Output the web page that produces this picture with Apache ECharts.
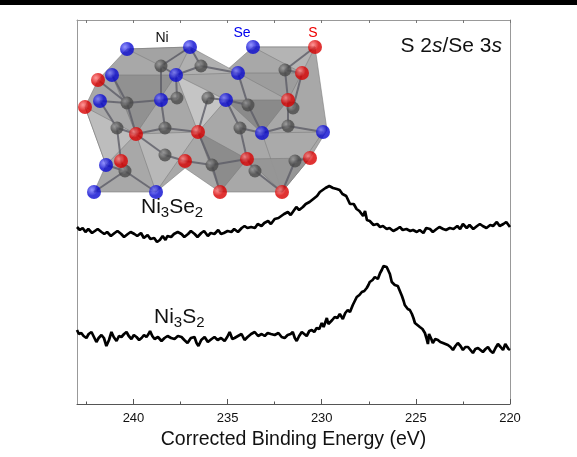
<!DOCTYPE html>
<html><head><meta charset="utf-8">
<script src="https://cdn.jsdelivr.net/npm/echarts@6/dist/echarts.min.js"></script>
<style>html,body{margin:0;padding:0;background:#fff}#c{width:577px;height:457px}</style>
</head><body><div id="c"></div>
<script>
// ---- spectra (binding energy in eV, intensity in arbitrary units) ----
const seEnergy = [243.0,242.85,242.7,242.55,242.4,242.2,242.05,241.9,241.7,241.55,241.4,241.2,241.0,240.85,240.65,240.5,240.3,240.15,239.95,239.8,239.6,239.45,239.25,239.1,238.9,238.75,238.6,238.45,238.3,238.2,238.0,237.85,237.65,237.45,237.3,237.1,236.95,236.75,236.6,236.4,236.25,236.05,235.9,235.7,235.5,235.35,235.2,235.0,234.8,234.65,234.45,234.25,234.1,233.95,233.75,233.55,233.4,233.2,233.05,232.85,232.7,232.5,232.3,232.15,232.0,231.8,231.65,231.5,231.35,231.2,231.0,230.85,230.65,230.45,230.25,230.1,229.95,229.8,229.6,229.4,229.2,229.05,228.9,228.7,228.5,228.3,228.15,228.0,227.8,227.7,227.6,227.45,227.25,227.05,226.9,226.75,226.55,226.4,226.2,226.0,225.85,225.7,225.5,225.3,225.15,224.95,224.8,224.6,224.45,224.25,224.1,223.9,223.75,223.55,223.4,223.2,223.0,222.8,222.65,222.5,222.3,222.15,221.95,221.75,221.6,221.45,221.25,221.05,220.9,220.7,220.55,220.35,220.2,220.0];
const seIntensity = [177,174,176,172,175,171,173,175,172,170,172,168,171,173,170,167,170,172,170,168,171,166,169,165,166,162,164,168,164,168,167,170,172,170,167,170,173,170,167,171,173,168,171,170,174,170,171,173,172,175,172,176,178,176,177,176,180,178,181,183,180,185,186,188,190,192,189,193,197,194,197,200,202,205,208,212,214,216,218,216,215,214,210,208,200,200,195,193,188,193,184,183,179,180,177,178,175,176,173,175,177,174,175,173,174,172,174,171,176,175,172,175,177,175,174,176,175,178,175,180,176,179,175,178,180,178,176,179,178,182,178,180,182,177];

const sEnergy = [243.0,242.9,242.77,242.65,242.5,242.38,242.23,242.1,241.97,241.85,241.7,241.57,241.44,241.3,241.17,241.05,240.9,240.77,240.64,240.5,240.37,240.25,240.11,239.98,239.84,239.7,239.57,239.44,239.31,239.2,239.12,239.0,238.88,238.7,238.51,238.35,238.19,238.0,237.82,237.64,237.45,237.3,237.13,236.95,236.76,236.65,236.55,236.4,236.22,236.05,235.85,235.7,235.53,235.35,235.16,235.02,234.89,234.75,234.63,234.45,234.26,234.1,233.94,233.75,233.56,233.38,233.19,233.03,232.87,232.7,232.5,232.3,232.13,231.97,231.81,231.65,231.54,231.43,231.33,231.2,231.06,230.93,230.8,230.66,230.53,230.4,230.27,230.13,230.0,229.9,229.84,229.73,229.65,229.57,229.44,229.31,229.17,229.04,228.95,228.88,228.75,228.62,228.5,228.35,228.25,228.14,228.0,227.87,227.74,227.61,227.52,227.45,227.3,227.18,227.1,227.02,226.9,226.81,226.72,226.65,226.55,226.49,226.38,226.28,226.2,226.12,226.04,225.96,225.85,225.74,225.65,225.59,225.5,225.43,225.32,225.21,225.13,225.05,224.92,224.79,224.65,224.52,224.44,224.36,224.3,224.26,224.18,224.1,223.97,223.83,223.7,223.56,223.43,223.3,223.16,223.03,222.9,222.77,222.63,222.5,222.37,222.23,222.1,221.97,221.84,221.7,221.57,221.44,221.3,221.17,221.03,220.9,220.77,220.64,220.5,220.37,220.25,220.16,220.08,220.0];
const sIntensity = [74,70,71,68,66,70,72,67,62,66,69,66,58,64,72,67,63,68,67,70,72,68,65,69,67,64,66,69,67,70,73,68,65,67,63,66,68,66,65,68,67,64,61,66,67,61,58,64,67,62,65,67,64,66,63,67,72,65,66,68,70,64,67,70,72,68,70,68,71,70,69,71,67,66,69,70,72,66,63,68,72,70,68,73,74,72,76,75,81,77,76,86,80,81,84,87,86,90,88,85,91,94,92,99,101,107,109,112,113,116,119,122,124,127,126,125,131,134,138,139,137,138,130,122,124,119,121,118,113,108,103,99,98,95,94,90,86,81,79,77,75,71,66,60,70,72,65,61,65,64,62,61,60,59,57,54,58,61,58,54,57,57,54,51,55,56,54,52,55,57,53,51,56,60,57,54,60,62,55,54];

// ---- axis ticks ----
const majorTicks = [240,235,230,225,220];
const minorTicks = [242.5,237.5,232.5,227.5,222.5];
const topTicks = [242.5,240,237.5,235,232.5,230,227.5,225,222.5,220];

// ---- inset crystal structure (inset units) ----
const seAtoms = [[52,31],[115,29],[178,29],[37,57],[101,57],[163,55],[25,83],[86,82],[151,82],[187,115],[248,114],[31,147],[19,174],[81,174]];
const sAtoms = [[240,29],[23,62],[227,55],[10,89],[213,82],[61,116],[123,114],[46,143],[110,143],[172,141],[235,140],[145,174],[207,174]];
const niAtoms = [[86,48],[126,48],[210,52],[52,85],[102,80],[133,80],[173,87],[218,90],[42,110],[90,110],[165,110],[213,108],[50,153],[90,137],[137,147],[180,153],[220,143]];
const hull = [[52,31],[115,29],[152,52],[178,29],[240,29],[252,112],[235,140],[207,174],[145,174],[110,150],[81,174],[19,174],[31,147],[10,89],[23,62]];
const facets = [
  [[37,57],[101,57],[61,116]],
  [[115,29],[101,57],[163,55]],
  [[101,57],[151,82],[123,114]],
  [[151,82],[213,82],[187,115]],
  [[163,55],[227,55],[213,82]],
  [[61,116],[123,114],[81,174]],
  [[123,114],[172,141],[145,174]],
  [[187,115],[248,114],[207,174]],
  [[10,89],[61,116],[31,147]],
  [[178,29],[240,29],[227,55]],
  [[52,31],[115,29],[86,48]],
  [[172,141],[235,140],[207,174]]
];
const facetShades = ['#8f8f8f','#b0b0b0','#c6c6c6','#888888','#9c9c9c','#b8b8b8','#8a8a8a','#aaaaaa','#bebebe','#b4b4b4','#a2a2a2','#959595'];

const FONT = 'Liberation Sans, Arial, sans-serif';
const chart = echarts.init(document.getElementById('c'), null, {renderer:'canvas'});

function ball(c1, c2){
  return {type:'radial', x:0.35, y:0.35, r:0.75, colorStops:[{offset:0,color:c1},{offset:0.55,color:c2},{offset:1,color:c2}]};
}

const polys = [hull].concat(facets);
const polyFill = ['#a3a3a3'].concat(facetShades);
const anions = seAtoms.concat(sAtoms);
// bonds: each Ni linked to its nearby anions
const bonds = [];
niAtoms.forEach(n=>anions.forEach(a=>{
  const d = Math.hypot(n[0]-a[0], n[1]-a[1]);
  if (d < 38) bonds.push([n, a]);
}));

chart.setOption({
  animation:false,
  backgroundColor:'#fff',
  grid:[
    {left:77, right:67, top:20, bottom:53},
    {left:75, top:18, width:260, height:190}
  ],
  xAxis:[
    {gridIndex:0, type:'value', min:220, max:243, inverse:true, position:'bottom',
     axisLine:{show:true, onZero:false, lineStyle:{color:'#555', width:1}},
     axisTick:{show:true, inside:true, length:5, customValues:majorTicks, lineStyle:{color:'#555'}},
     axisLabel:{show:true, customValues:majorTicks, margin:8, color:'#111', fontSize:13, fontFamily:FONT},
     splitLine:{show:false},
     name:'Corrected Binding Energy (eV)', nameLocation:'middle', nameGap:22,
     nameTextStyle:{fontSize:19.5, color:'#111', fontFamily:FONT}},
    {gridIndex:0, type:'value', min:220, max:243, inverse:true, position:'bottom',
     axisLine:{show:false, onZero:false},
     axisTick:{show:true, inside:true, length:2.5, customValues:minorTicks, lineStyle:{color:'#555'}},
     axisLabel:{show:false}, splitLine:{show:false}},
    {gridIndex:0, type:'value', min:220, max:243, inverse:true, position:'top',
     axisLine:{show:true, onZero:false, lineStyle:{color:'#999', width:1}},
     axisTick:{show:true, inside:true, length:3, customValues:topTicks, lineStyle:{color:'#777'}},
     axisLabel:{show:false}, splitLine:{show:false}},
    {gridIndex:1, type:'value', min:0, max:260, show:false}
  ],
  yAxis:[
    {gridIndex:0, type:'value', min:0, max:384, position:'left',
     axisLine:{show:true, onZero:false, lineStyle:{color:'#999'}},
     axisTick:{show:false}, axisLabel:{show:false}, splitLine:{show:false}},
    {gridIndex:0, type:'value', min:0, max:384, position:'right',
     axisLine:{show:true, onZero:false, lineStyle:{color:'#999'}},
     axisTick:{show:false}, axisLabel:{show:false}, splitLine:{show:false}},
    {gridIndex:1, type:'value', min:0, max:190, inverse:true, show:false}
  ],
  series:[
    {type:'line', name:'Ni3Se2', xAxisIndex:0, yAxisIndex:0, showSymbol:false, symbol:'none',
     data: seEnergy.map((e,i)=>[e, seIntensity[i]]),
     lineStyle:{color:'#000', width:2.7}, z:5},
    {type:'line', name:'Ni3S2', xAxisIndex:0, yAxisIndex:0, showSymbol:false, symbol:'none',
     data: sEnergy.map((e,i)=>[e, sIntensity[i]]),
     lineStyle:{color:'#000', width:2.7}, z:5},
    {type:'custom', xAxisIndex:3, yAxisIndex:2, z:2, silent:true,
     data: polys.map((p,i)=>i),
     renderItem:function(params, api){
       const pts = polys[params.dataIndex].map(p=>api.coord(p));
       return {type:'polygon', shape:{points:pts},
         style:{fill:polyFill[params.dataIndex], stroke:'#7a7a7a', lineWidth:0.6, opacity:0.95}};
     }},
    {type:'custom', xAxisIndex:3, yAxisIndex:2, z:3, silent:true,
     data: bonds.map((b,i)=>i),
     renderItem:function(params, api){
       const b = bonds[params.dataIndex];
       const p1 = api.coord(b[0]), p2 = api.coord(b[1]);
       return {type:'line', shape:{x1:p1[0], y1:p1[1], x2:p2[0], y2:p2[1]},
         style:{stroke:'#5c5c66', lineWidth:2, opacity:0.8}};
     }},
    {type:'scatter', xAxisIndex:3, yAxisIndex:2, z:4, silent:true, symbolSize:13,
     data: niAtoms, itemStyle:{color:ball('#9a9a9a','#4a4a4a')}},
    {type:'scatter', xAxisIndex:3, yAxisIndex:2, z:4, silent:true, symbolSize:14,
     data: seAtoms, itemStyle:{color:ball('#7a7aff','#0a0ad0')}},
    {type:'scatter', xAxisIndex:3, yAxisIndex:2, z:4, silent:true, symbolSize:14,
     data: sAtoms, itemStyle:{color:ball('#ff8080','#d80000')}}
  ],
  graphic:[
    {type:'rect', left:0, top:0, shape:{width:577, height:5}, style:{fill:'#000'}, z:10},
    {type:'text', x:162, y:38, style:{text:'Ni', fill:'#111', font:'14px '+FONT, textAlign:'center', textVerticalAlign:'middle'}, z:10},
    {type:'text', x:242, y:33, style:{text:'Se', fill:'#0000ee', font:'14px '+FONT, textAlign:'center', textVerticalAlign:'middle'}, z:10},
    {type:'text', x:313, y:33, style:{text:'S', fill:'#ee0000', font:'14px '+FONT, textAlign:'center', textVerticalAlign:'middle'}, z:10},
    {type:'text', x:502, y:46, z:10, style:{
      text:'{n|S 2}{i|s}{n|/Se 3}{i|s}', textAlign:'right', textVerticalAlign:'middle',
      rich:{n:{fontSize:21, fontFamily:FONT, fill:'#111'}, i:{fontSize:21, fontFamily:FONT, fontStyle:'italic', fill:'#111'}}}},
    {type:'text', x:141, y:207, z:10, style:{
      text:'{n|Ni}{s|3}{n|Se}{s|2}', textVerticalAlign:'middle',
      rich:{n:{fontSize:21, fontFamily:FONT, fill:'#111'}, s:{fontSize:15, fontFamily:FONT, fill:'#111', padding:[11,0,0,0]}}}},
    {type:'text', x:154, y:317, z:10, style:{
      text:'{n|Ni}{s|3}{n|S}{s|2}', textVerticalAlign:'middle',
      rich:{n:{fontSize:21, fontFamily:FONT, fill:'#111'}, s:{fontSize:15, fontFamily:FONT, fill:'#111', padding:[11,0,0,0]}}}}
  ]
});
</script>
</body></html>
